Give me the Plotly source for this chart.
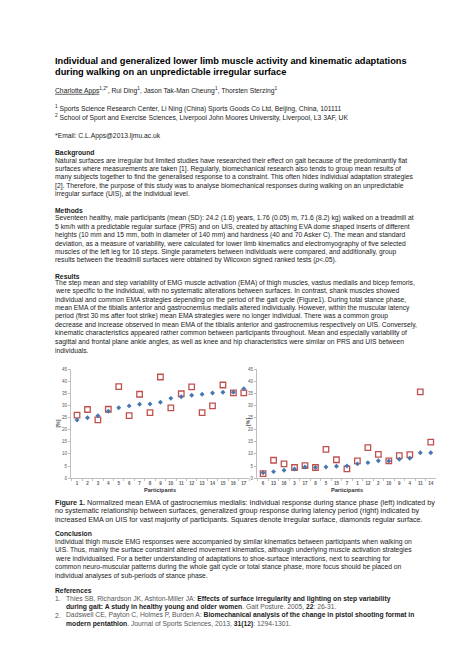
import plotly.graph_objects as go

W, H = 474, 670

# ---- chart data ----
participants_left = [str(i) for i in range(1, 18)]
left_irregular = [26.0, 28.3, 24.0, 28.4, 37.7, 25.8, 34.6, 27.0, 41.7, 29.0,
                  34.8, 37.6, 27.0, 29.8, 38.4, 35.2, 35.2]
left_regular = [24.0, 24.9, 25.7, 27.6, 29.0, 29.8, 30.5, 30.6, 31.3, 32.9,
                33.6, 34.2, 34.6, 35.1, 35.4, 35.4, 36.9]

participants_right = ["6", "13", "16", "3", "17", "8", "5", "15", "7", "1",
                      "12", "2", "10", "9", "4", "11", "14"]
right_irregular = [1.9, 7.4, 5.9, 4.4, 5.2, 4.4, 11.9, 7.6, 3.8, 7.1,
                   12.6, 9.8, 7.1, 9.3, 9.7, 35.6, 14.9]
right_regular = [2.2, 2.7, 3.3, 3.8, 4.6, 4.4, 4.6, 4.9, 5.0, 5.9,
                 6.4, 7.2, 7.1, 7.8, 8.2, 10.5, 10.5]

y_ticks = [0, 5, 10, 15, 20, 25, 30, 35, 40, 45]

# ---- page text ----
title_lines = [
    "Individual and generalized lower limb muscle activity and kinematic adaptations",
    "during walking on an unpredictable irregular surface",
]
authors = ('<span style="text-decoration:underline">Charlotte Apps</span><sup>1,2*</sup>, '
           'Rui Ding<sup>1</sup>, Jason Tak-Man Cheung<sup>1</sup>, Thorsten Sterzing<sup>1</sup>')
affiliations = [
    "<sup>1</sup> Sports Science Research Center, Li Ning (China) Sports Goods Co Ltd, Beijing, China, 101111",
    "<sup>2</sup> School of Sport and Exercise Sciences, Liverpool John Moores University, Liverpool, L3 3AF, UK",
]
email = "*Email: C.L.Apps@2013.ljmu.ac.uk"

background = [
    "Natural surfaces are irregular but limited studies have researched their effect on gait because of the predominantly flat",
    "surfaces where measurements are taken [1]. Regularly, biomechanical research also tends to group mean results of",
    "many subjects together to find the generalised response to a constraint. This often hides individual adaptation strategies",
    "[2]. Therefore, the purpose of this study was to analyse biomechanical responses during walking on an unpredictable",
    "irregular surface (UIS), at the individual level.",
]
methods = [
    "Seventeen healthy, male participants (mean (SD): 24.2 (1.6) years, 1.76 (0.05) m, 71.6 (8.2) kg) walked on a treadmill at",
    "5 km/h with a predictable regular surface (PRS) and on UIS, created by attaching EVA dome shaped inserts of different",
    "heights (10 mm and 15 mm, both in diameter of 140 mm) and hardness (40 and 70 Asker C). The mean and standard",
    "deviation, as a measure of variability, were calculated for lower limb kinematics and electromyography of five selected",
    "muscles of the left leg for 16 steps. Single parameters between individuals were compared, and additionally, group",
    "results between the treadmill surfaces were obtained by Wilcoxon signed ranked tests (<i>p</i><.05).",
]
results = [
    "The step mean and step variability of EMG muscle activation (EMA) of thigh muscles, vastus medialis and bicep femoris,",
    "were specific to the individual, with no systematic alterations between surfaces. In contrast, shank muscles showed",
    "individual and common EMA strategies depending on the period of the gait cycle (Figure1). During total stance phase,",
    "mean EMA of the tibialis anterior and gastrocnemius medialis altered individually. However, within the muscular latency",
    "period (first 30 ms after foot strike) mean EMA strategies were no longer individual. There was a common group",
    "decrease and increase observed in mean EMA of the tibialis anterior and gastrocnemius respectively on UIS. Conversely,",
    "kinematic characteristics appeared rather common between participants throughout. Mean and especially variability of",
    "sagittal and frontal plane ankle angles, as well as knee and hip characteristics were similar on PRS and UIS between",
    "individuals.",
]
caption = [
    "<b>Figure 1.</b> Normalized mean EMA of gastrocnemius medialis: Individual response during stance phase (left) indicated by",
    "no systematic relationship between surfaces, generalized group response during latency period (right) indicated by",
    "increased EMA on UIS for vast majority of participants. Squares denote irregular surface, diamonds regular surface.",
]
conclusion = [
    "Individual thigh muscle EMG responses were accompanied by similar kinematics between participants when walking on",
    "UIS. Thus, mainly the surface constraint altered movement kinematics, although underlying muscle activation strategies",
    "were individualised. For a better understanding of adaptations to shoe-surface interactions, next to searching for",
    "common neuro-muscular patterns during the whole gait cycle or total stance phase, more focus should be placed on",
    "individual analyses of sub-periods of stance phase.",
]
G = '<span style="color:#555555">'
references = [
    ("1.", G + "Thies SB, Richardson JK, Ashton-Miller JA: </span><b>Effects of surface irregularity and lighting on step variability</b>"),
    ("", "<b>during gait: A study in healthy young and older women</b>" + G + ". Gait Posture. 2005, </span><b>22</b>" + G + ": 26-31.</span>"),
    ("2.", G + "Dadswell CE, Payton C, Holmes P, Burden A: </span><b>Biomechanical analysis of the change in pistol shooting format in</b>"),
    ("", "<b>modern pentathlon</b>" + G + ". Journal of Sports Sciences, 2013, </span><b>31(12)</b>" + G + ": 1294-1301.</span>"),
]

FONT = "Liberation Sans"
BODY = 6.75
LEFT = 45

fig = go.Figure()

# left panel: stance phase
fig.add_trace(go.Scatter(x=participants_left, y=left_irregular, mode="markers",
                         marker=dict(symbol="square", size=5.5, color="white",
                                     line=dict(color="#c0504d", width=1.3)),
                         xaxis="x", yaxis="y"))
fig.add_trace(go.Scatter(x=participants_left, y=left_regular, mode="markers",
                         marker=dict(symbol="diamond", size=3.8, color="#4677b0"),
                         xaxis="x", yaxis="y"))
# right panel: latency period
fig.add_trace(go.Scatter(x=participants_right, y=right_irregular, mode="markers",
                         marker=dict(symbol="square", size=5.5, color="white",
                                     line=dict(color="#c0504d", width=1.3)),
                         xaxis="x2", yaxis="y2"))
fig.add_trace(go.Scatter(x=participants_right, y=right_regular, mode="markers",
                         marker=dict(symbol="diamond", size=3.8, color="#4677b0"),
                         xaxis="x2", yaxis="y2"))

y_dom = [1 - 471.7 / H, 1 - 361.7 / H]
tickfont = dict(family=FONT, size=4.5, color="#595959", weight="bold")
xcommon = dict(type="category", range=[-0.58, 16.5], showline=True, linecolor="#bfbfbf",
               linewidth=1, ticks="outside", tickson="boundaries", ticklen=2,
               tickcolor="#bfbfbf", showgrid=False, zeroline=False, tickfont=tickfont,
               tickangle=0, fixedrange=True)
ycommon = dict(range=[0, 45], tickvals=y_ticks, showline=True, linecolor="#bfbfbf",
               linewidth=1, ticks="outside", ticklen=2, tickcolor="#bfbfbf",
               showgrid=False, zeroline=False, tickfont=dict(family=FONT, size=4.5, color="#595959"),
               fixedrange=True)

fig.update_layout(
    width=W, height=H, margin=dict(l=0, r=0, t=0, b=0),
    paper_bgcolor="white", plot_bgcolor="white", showlegend=False,
    font=dict(family=FONT, color="#1a1a1a"),
    xaxis=dict(domain=[63 / W, 241 / W], anchor="y", **xcommon),
    yaxis=dict(domain=y_dom, anchor="x", **ycommon),
    xaxis2=dict(domain=[249 / W, 428 / W], anchor="y2", **xcommon),
    yaxis2=dict(domain=y_dom, anchor="x2", **ycommon),
)


def line(text, py, px=LEFT, size=BODY, color="#1a1a1a", anchor="left", angle=0):
    fig.add_annotation(text=text, x=px / W, y=1 - py / H, xref="paper", yref="paper",
                       xanchor=anchor, yanchor="middle", showarrow=False, textangle=angle,
                       font=dict(family=FONT, size=size, color=color))


def block(lines, top, step=8.45, size=BODY):
    for i, t in enumerate(lines):
        line(t, top + i * step, size=size)


for i, t in enumerate(title_lines):
    line("<b>" + t + "</b>", 51 + i * 11.8, size=9.25, color="#000000")
line(authors, 81, size=BODY)
block(affiliations, 99.3, step=9.0)
line(email, 126.7)

line("<b>Background</b>", 144)
block(background, 151.7)
line("<b>Methods</b>", 201.7)
block(methods, 210)
line("<b>Results</b>", 268.3)
block(results, 275)

# axis labels for the two panels
line("<b>[%]</b>", 416.5, px=50, size=5, color="#595959", anchor="center", angle=-90)
line("<b>[%]</b>", 415, px=240, size=5, color="#595959", anchor="center", angle=-90)
line("<b>Participants</b>", 484, px=152, size=5.6, color="#333333", anchor="center")
line("<b>Participants</b>", 484, px=339, size=5.6, color="#333333", anchor="center")

block(caption, 496, step=8.5, size=7.2)
line("<b>Conclusion</b>", 527.7)
block(conclusion, 536)
line("<b>References</b>", 585)
for i, (num, t) in enumerate(references):
    y = 593.3 + i * 8.35
    if num:
        line(G + num + "</span>", y)
    line(t, y, px=56)

fig.write_html("out.html")
